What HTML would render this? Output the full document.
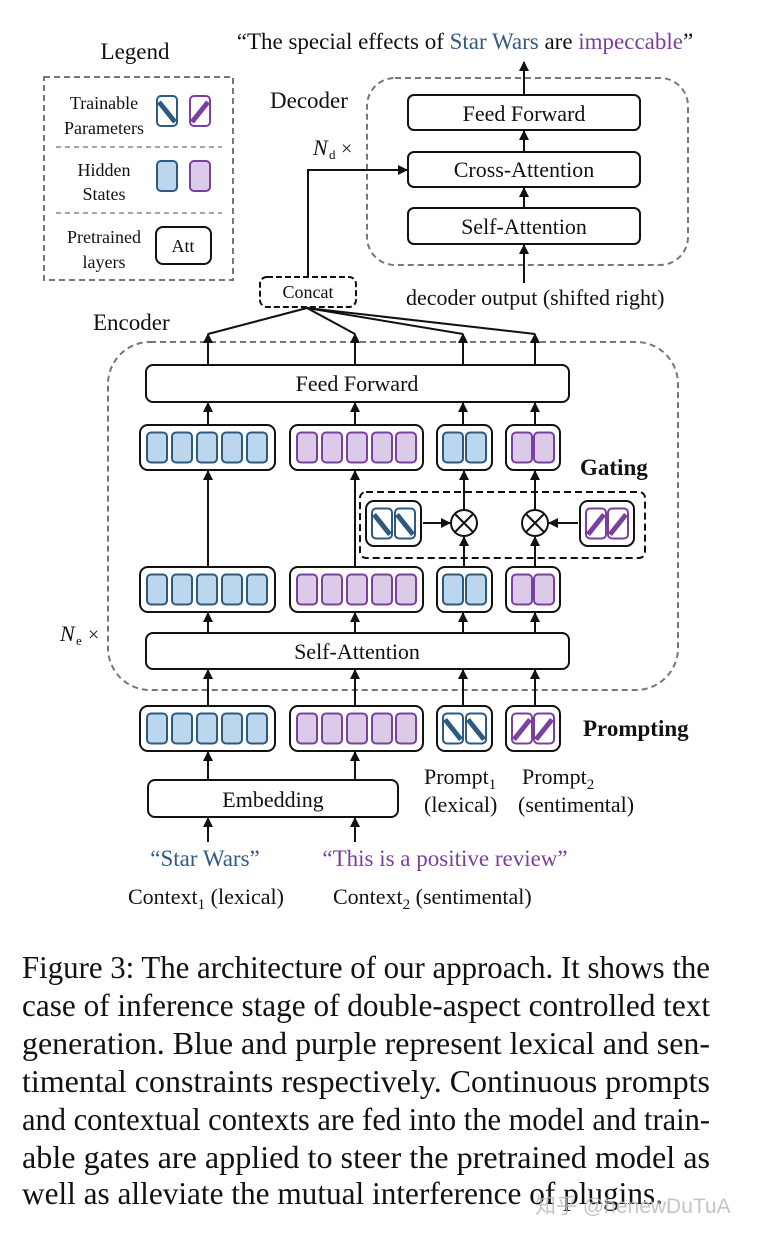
<!DOCTYPE html>
<html><head><meta charset="utf-8"><style>
html,body{margin:0;padding:0;background:#fff}
svg{display:block}
text{font-family:"Liberation Serif","Noto Serif CJK SC",serif;fill:#111}
</style></head><body>
<svg width="760" height="1236" viewBox="0 0 760 1236" xmlns="http://www.w3.org/2000/svg">
<defs>
<marker id="ah" markerWidth="10" markerHeight="10" refX="9" refY="5" orient="auto" markerUnits="userSpaceOnUse">
<path d="M0,0 L10,5 L0,10 z" fill="#111"/></marker>
<g id="cb"><rect x="0" y="0" width="20" height="30" rx="4" fill="#bcd6ee" stroke="#2e5a80" stroke-width="2"/></g>
<g id="cp"><rect x="0" y="0" width="20" height="30" rx="4" fill="#dccbe8" stroke="#7b3fa0" stroke-width="2"/></g>
<g id="hb"><rect x="0" y="0" width="20" height="30" rx="4" fill="#fff" stroke="#2e5a80" stroke-width="2"/><path d="M2,6 L18,26" stroke="#2e5a80" stroke-width="5"/></g>
<g id="hp"><rect x="0" y="0" width="20" height="30" rx="4" fill="#fff" stroke="#7b3fa0" stroke-width="2"/><path d="M2,26 L18,6" stroke="#7b3fa0" stroke-width="5"/></g>
<g id="b5"><rect x="0" y="0" width="135" height="45" rx="8" fill="#fff" stroke="#111" stroke-width="2"/><use href="#cb" x="7" y="7.5"/><use href="#cb" x="32" y="7.5"/><use href="#cb" x="57" y="7.5"/><use href="#cb" x="82" y="7.5"/><use href="#cb" x="107" y="7.5"/></g>
<g id="p5"><rect x="0" y="0" width="133" height="45" rx="8" fill="#fff" stroke="#111" stroke-width="2"/><use href="#cp" x="7" y="7.5"/><use href="#cp" x="32" y="7.5"/><use href="#cp" x="57" y="7.5"/><use href="#cp" x="82" y="7.5"/><use href="#cp" x="106" y="7.5"/></g>
<g id="b2"><rect x="0" y="0" width="55" height="45" rx="8" fill="#fff" stroke="#111" stroke-width="2"/><use href="#cb" x="6" y="7.5"/><use href="#cb" x="29" y="7.5"/></g>
<g id="p2"><rect x="0" y="0" width="54" height="45" rx="8" fill="#fff" stroke="#111" stroke-width="2"/><use href="#cp" x="6" y="7.5"/><use href="#cp" x="28" y="7.5"/></g>
<g id="hb2"><rect x="0" y="0" width="55" height="45" rx="8" fill="#fff" stroke="#111" stroke-width="2"/><use href="#hb" x="6" y="7.5"/><use href="#hb" x="29" y="7.5"/></g>
<g id="hp2"><rect x="0" y="0" width="54" height="45" rx="8" fill="#fff" stroke="#111" stroke-width="2"/><use href="#hp" x="6" y="7.5"/><use href="#hp" x="28" y="7.5"/></g>
</defs>

<text x="465" y="49" font-size="23" text-anchor="middle">“The special effects of <tspan style="fill:#2f5b84">Star Wars</tspan> are <tspan style="fill:#7a3f9e">impeccable</tspan>”</text>

<text x="135" y="59" font-size="23" text-anchor="middle">Legend</text>
<rect x="44" y="77" width="189" height="203" fill="none" stroke="#777" stroke-width="2" stroke-dasharray="6,4"/>
<line x1="56" y1="147" x2="222" y2="147" stroke="#888" stroke-width="1.5" stroke-dasharray="5,4"/>
<line x1="56" y1="213" x2="222" y2="213" stroke="#888" stroke-width="1.5" stroke-dasharray="5,4"/>
<text x="104" y="109" font-size="18" text-anchor="middle">Trainable</text>
<text x="104" y="134" font-size="18" text-anchor="middle">Parameters</text>
<use href="#hb" x="157" y="96"/><use href="#hp" x="190" y="96"/>
<text x="104" y="176" font-size="18" text-anchor="middle">Hidden</text>
<text x="104" y="200" font-size="18" text-anchor="middle">States</text>
<use href="#cb" x="157" y="161"/><use href="#cp" x="190" y="161"/>
<text x="104" y="243" font-size="18" text-anchor="middle">Pretrained</text>
<text x="104" y="268" font-size="18" text-anchor="middle">layers</text>
<rect x="156" y="227" width="55" height="37" rx="7" fill="#fff" stroke="#111" stroke-width="2"/>
<text x="183" y="252" font-size="18" text-anchor="middle">Att</text>

<text x="270" y="108" font-size="23">Decoder</text>
<rect x="367" y="78" width="321" height="187" rx="28" fill="none" stroke="#777" stroke-width="2" stroke-dasharray="6,4"/>
<rect x="408" y="95" width="232" height="35" rx="6" fill="#fff" stroke="#111" stroke-width="2"/>
<text x="524" y="121" font-size="22" text-anchor="middle">Feed Forward</text>
<rect x="408" y="152" width="232" height="35" rx="6" fill="#fff" stroke="#111" stroke-width="2"/>
<text x="524" y="177" font-size="22" text-anchor="middle">Cross-Attention</text>
<rect x="408" y="208" width="232" height="36" rx="6" fill="#fff" stroke="#111" stroke-width="2"/>
<text x="524" y="234" font-size="22" text-anchor="middle">Self-Attention</text>
<g stroke="#111" stroke-width="2" marker-end="url(#ah)">
<line x1="524" y1="95" x2="524" y2="62"/>
<line x1="524" y1="208" x2="524" y2="188"/>
<line x1="524" y1="152" x2="524" y2="131"/>
<line x1="524" y1="283" x2="524" y2="245"/>
</g>
<text x="406" y="305" font-size="22">decoder output (shifted right)</text>
<text x="313" y="155" font-size="22" font-style="italic">N</text><text x="329" y="159" font-size="13">d</text><text x="341" y="155" font-size="20">×</text>
<polyline points="308,277 308,170 407,170" fill="none" stroke="#111" stroke-width="2" marker-end="url(#ah)"/>

<rect x="260" y="277" width="96" height="30" rx="7" fill="#fff" stroke="#111" stroke-width="2" stroke-dasharray="6,3"/>
<text x="308" y="298" font-size="18" text-anchor="middle">Concat</text>
<g stroke="#111" stroke-width="2" fill="none">
<polyline points="208,334 307,308 355,334"/>
<polyline points="307,308 463,334"/>
<polyline points="307,308 535,334"/>
</g>

<text x="93" y="330" font-size="23">Encoder</text>
<rect x="108" y="342" width="570" height="348" rx="42" fill="none" stroke="#777" stroke-width="2" stroke-dasharray="6,4"/>
<text x="60" y="641" font-size="22" font-style="italic">N</text><text x="76" y="645" font-size="13">e</text><text x="88" y="641" font-size="20">×</text>

<rect x="146" y="365" width="423" height="37" rx="7" fill="#fff" stroke="#111" stroke-width="2"/>
<text x="357" y="391" font-size="22" text-anchor="middle">Feed Forward</text>
<g stroke="#111" stroke-width="2" marker-end="url(#ah)">
<line x1="208" y1="365" x2="208" y2="334"/><line x1="355" y1="365" x2="355" y2="334"/>
<line x1="463" y1="365" x2="463" y2="334"/><line x1="535" y1="365" x2="535" y2="334"/>
<line x1="208" y1="425" x2="208" y2="403"/><line x1="355" y1="425" x2="355" y2="403"/>
<line x1="463" y1="425" x2="463" y2="403"/><line x1="535" y1="425" x2="535" y2="403"/>
<line x1="208" y1="567" x2="208" y2="471"/><line x1="355" y1="567" x2="355" y2="471"/>
<line x1="464" y1="510" x2="464" y2="471"/><line x1="535" y1="510" x2="535" y2="471"/>
<line x1="464" y1="567" x2="464" y2="537"/><line x1="535" y1="567" x2="535" y2="537"/>
<line x1="423" y1="523" x2="450" y2="523"/><line x1="578" y1="523" x2="549" y2="523"/>
<line x1="208" y1="633" x2="208" y2="613"/><line x1="355" y1="633" x2="355" y2="613"/>
<line x1="463" y1="633" x2="463" y2="613"/><line x1="535" y1="633" x2="535" y2="613"/>
<line x1="208" y1="706" x2="208" y2="670"/><line x1="355" y1="706" x2="355" y2="670"/>
<line x1="463" y1="706" x2="463" y2="670"/><line x1="535" y1="706" x2="535" y2="670"/>
<line x1="208" y1="780" x2="208" y2="752"/><line x1="355" y1="780" x2="355" y2="752"/>
<line x1="208" y1="842" x2="208" y2="818"/><line x1="355" y1="842" x2="355" y2="818"/>
</g>

<use href="#b5" x="140" y="425"/><use href="#p5" x="290" y="425"/><use href="#b2" x="437" y="425"/><use href="#p2" x="506" y="425"/>
<text x="580" y="475" font-size="23" font-weight="bold">Gating</text>
<rect x="360" y="492" width="285" height="66" rx="6" fill="none" stroke="#111" stroke-width="2" stroke-dasharray="7,4"/>
<use href="#hb2" x="366" y="501"/><use href="#hp2" x="580" y="501"/>
<g stroke="#111" stroke-width="2" fill="#fff">
<circle cx="464" cy="523" r="13"/><path d="M455,514 L473,532 M473,514 L455,532"/>
<circle cx="535" cy="523" r="13"/><path d="M526,514 L544,532 M544,514 L526,532"/>
</g>
<use href="#b5" x="140" y="567"/><use href="#p5" x="290" y="567"/><use href="#b2" x="437" y="567"/><use href="#p2" x="506" y="567"/>

<rect x="146" y="633" width="423" height="36" rx="7" fill="#fff" stroke="#111" stroke-width="2"/>
<text x="357" y="659" font-size="22" text-anchor="middle">Self-Attention</text>

<use href="#b5" x="140" y="706"/><use href="#p5" x="290" y="706"/><use href="#hb2" x="437" y="706"/><use href="#hp2" x="506" y="706"/>
<text x="583" y="736" font-size="23" font-weight="bold">Prompting</text>
<text x="424" y="784" font-size="22">Prompt<tspan font-size="15" dy="5">1</tspan></text>
<text x="522" y="784" font-size="22">Prompt<tspan font-size="15" dy="5">2</tspan></text>
<text x="424" y="812" font-size="22">(lexical)</text>
<text x="518" y="812" font-size="22">(sentimental)</text>

<rect x="148" y="780" width="250" height="37" rx="7" fill="#fff" stroke="#111" stroke-width="2"/>
<text x="273" y="807" font-size="22" text-anchor="middle">Embedding</text>
<text x="205" y="866" font-size="23" text-anchor="middle" style="fill:#2f5b84">“Star Wars”</text>
<text x="445" y="866" font-size="23" text-anchor="middle" style="fill:#7a3f9e">“This is a positive review”</text>
<text x="128" y="904" font-size="22">Context<tspan font-size="15" dy="5">1</tspan><tspan dy="-5"> (lexical)</tspan></text>
<text x="333" y="904" font-size="22">Context<tspan font-size="15" dy="5">2</tspan><tspan dy="-5"> (sentimental)</tspan></text>

<text x="22" y="978" font-size="32" textLength="688" lengthAdjust="spacingAndGlyphs">Figure 3: The architecture of our approach. It shows the</text>
<text x="22" y="1016" font-size="32" textLength="688" lengthAdjust="spacingAndGlyphs">case of inference stage of double-aspect controlled text</text>
<text x="22" y="1054" font-size="32" textLength="688" lengthAdjust="spacingAndGlyphs">generation. Blue and purple represent lexical and sen-</text>
<text x="22" y="1092" font-size="32" textLength="688" lengthAdjust="spacingAndGlyphs">timental constraints respectively. Continuous prompts</text>
<text x="22" y="1130" font-size="32" textLength="688" lengthAdjust="spacingAndGlyphs">and contextual contexts are fed into the model and train-</text>
<text x="22" y="1168" font-size="32" textLength="688" lengthAdjust="spacingAndGlyphs">able gates are applied to steer the pretrained model as</text>
<text x="22" y="1204" font-size="32" textLength="641" lengthAdjust="spacingAndGlyphs">well as alleviate the mutual interference of plugins.</text>
<text x="535" y="1213" font-size="21" style="fill:#bbb;font-family:'Liberation Sans','Noto Sans CJK SC',sans-serif" opacity="0.85">知乎 @henewDuTuA</text>
</svg>
</body></html>
